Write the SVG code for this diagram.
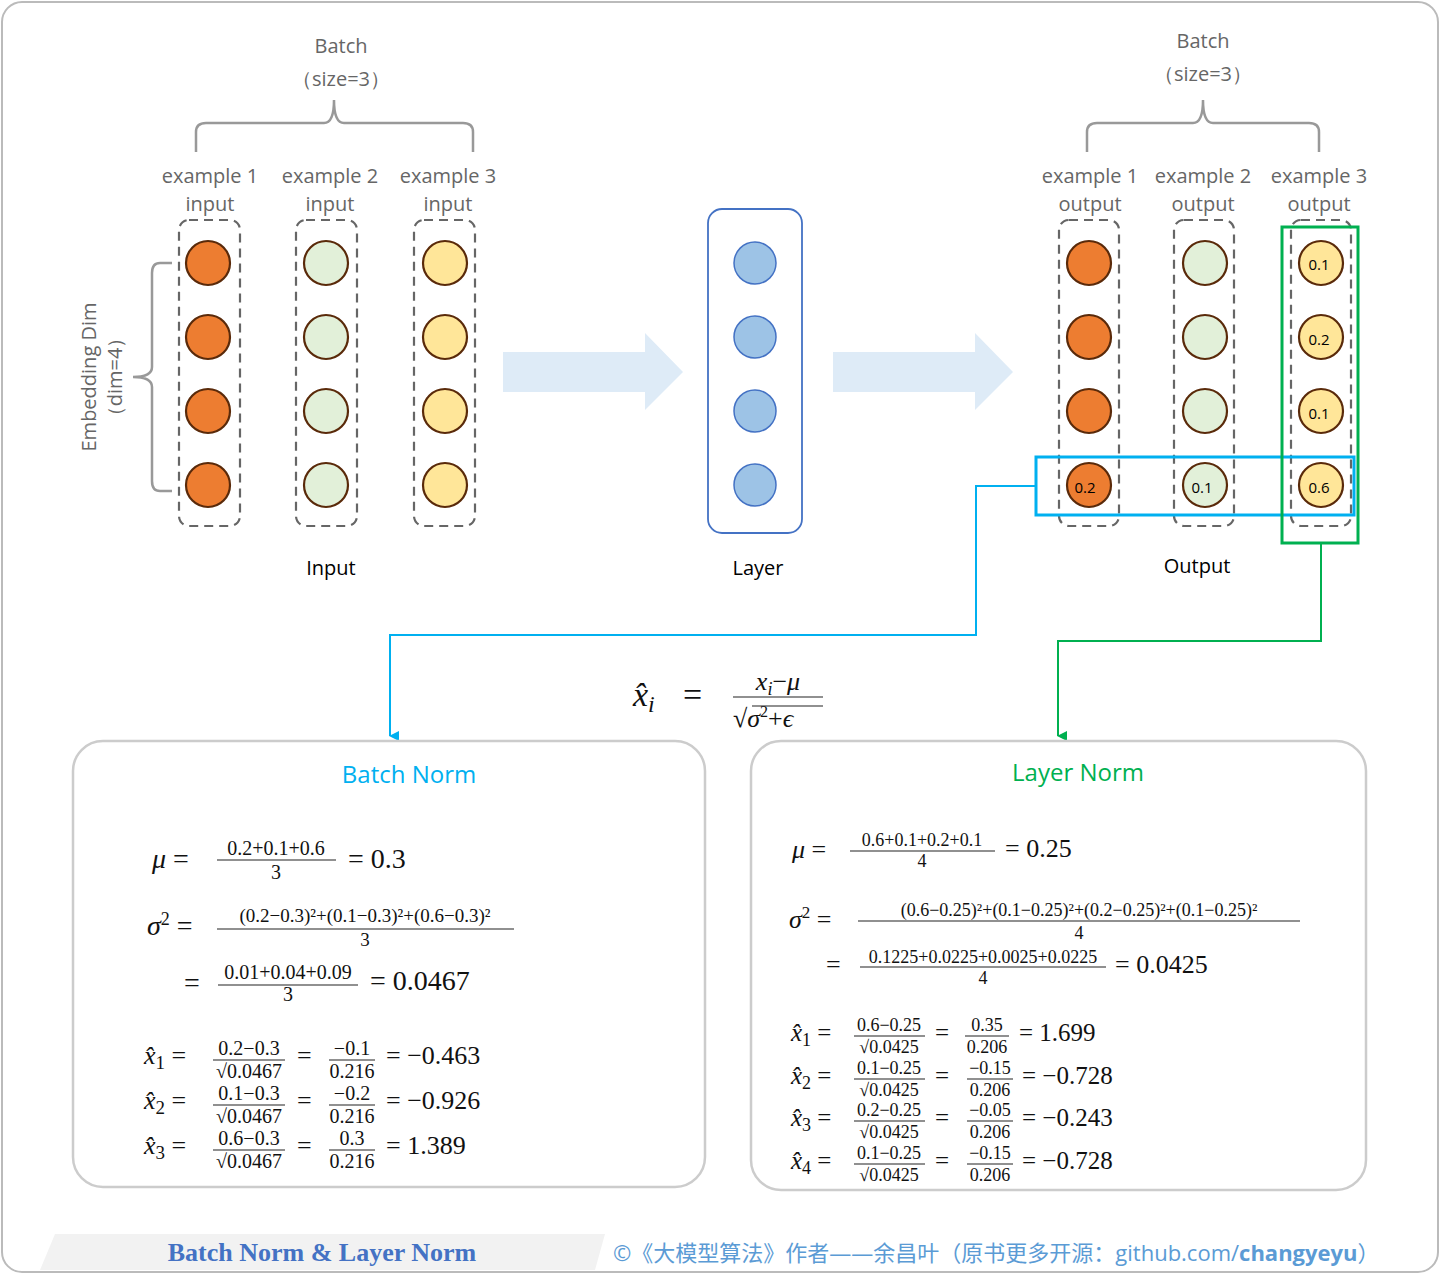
<svg xmlns="http://www.w3.org/2000/svg" width="1440" height="1274" viewBox="0 0 1440 1274">
<style>
.lb{font-family:"Open Sans","Liberation Sans",sans-serif;fill:#666;font-size:20px}
.bk{font-family:"Open Sans","Liberation Sans",sans-serif;fill:#000;font-size:20px}
.m{font-family:"Liberation Serif",serif;fill:#111}
.i{font-style:italic}
.dash{fill:none;stroke:#666;stroke-width:2.2;stroke-dasharray:9 6}
.or{fill:#ED7D31;stroke:#5a2a0a;stroke-width:2.2}
.gr{fill:#E2F0D9;stroke:#5a2a0a;stroke-width:2.2}
.ye{fill:#FFE699;stroke:#5a2a0a;stroke-width:2.2}
.bl{fill:#9DC3E6;stroke:#4472C4;stroke-width:1.5}
.ct{font-family:"Open Sans","Liberation Sans",sans-serif;font-size:15px;fill:#000;text-anchor:middle}
.brace{fill:none;stroke:#999;stroke-width:2.5}
.fl{stroke:#222;stroke-width:1.2}
.bigarrow{fill:#DEEBF7}
</style>
<defs>
<marker id="ab" markerWidth="10" markerHeight="10" refX="5" refY="9" orient="auto" markerUnits="userSpaceOnUse" viewBox="0 0 10 10"><path d="M0,0 L10,0 L5,10z" fill="#00B0F0"/></marker>
<marker id="ag" markerWidth="10" markerHeight="10" refX="5" refY="9" orient="auto" markerUnits="userSpaceOnUse" viewBox="0 0 10 10"><path d="M0,0 L10,0 L5,10z" fill="#00B050"/></marker>
</defs>
<rect x="2" y="2" width="1436" height="1270" rx="20" fill="#fff" stroke="#bbb" stroke-width="2"/>

<g id="input">
<text class="lb" x="341" y="53" text-anchor="middle" font-size="28">Batch</text>
<text class="lb" x="341" y="86" text-anchor="middle">（size=3）</text>
<path class="brace" d="M196,152 V132 Q196,123 206,123 H324 Q334,123 334,100 Q334,123 344,123 H463 Q473,123 473,132 V152"/>
<text class="lb" x="210" y="183" text-anchor="middle">example 1</text><text class="lb" x="210" y="211" text-anchor="middle">input</text>
<text class="lb" x="330" y="183" text-anchor="middle">example 2</text><text class="lb" x="330" y="211" text-anchor="middle">input</text>
<text class="lb" x="448" y="183" text-anchor="middle">example 3</text><text class="lb" x="448" y="211" text-anchor="middle">input</text>
<path class="brace" d="M172,263 H160 Q152,263 152,273 V367 Q152,377 133,377 Q152,377 152,387 V481 Q152,491 160,491 H172" stroke-width="2"/>
<text class="lb" transform="translate(96,377) rotate(-90)" text-anchor="middle">Embedding Dim</text>
<text class="lb" transform="translate(122,377) rotate(-90)" text-anchor="middle">（dim=4）</text>
<rect class="dash" x="179" y="220" width="61" height="306" rx="10"/>
<rect class="dash" x="296" y="220" width="61" height="306" rx="10"/>
<rect class="dash" x="414" y="220" width="61" height="306" rx="10"/>
<circle class="or" cx="208" cy="263" r="22"/><circle class="or" cx="208" cy="337" r="22"/><circle class="or" cx="208" cy="411" r="22"/><circle class="or" cx="208" cy="485" r="22"/>
<circle class="gr" cx="326" cy="263" r="22"/><circle class="gr" cx="326" cy="337" r="22"/><circle class="gr" cx="326" cy="411" r="22"/><circle class="gr" cx="326" cy="485" r="22"/>
<circle class="ye" cx="445" cy="263" r="22"/><circle class="ye" cx="445" cy="337" r="22"/><circle class="ye" cx="445" cy="411" r="22"/><circle class="ye" cx="445" cy="485" r="22"/>
<text class="bk" x="331" y="575" text-anchor="middle">Input</text>
</g>

<g id="layer">
<rect x="708" y="209" width="94" height="324" rx="14" fill="none" stroke="#4472C4" stroke-width="1.8"/>
<circle class="bl" cx="755" cy="263" r="21"/><circle class="bl" cx="755" cy="337" r="21"/><circle class="bl" cx="755" cy="411" r="21"/><circle class="bl" cx="755" cy="485" r="21"/>
<text class="bk" x="758" y="575" text-anchor="middle">Layer</text>
</g>

<g id="output">
<text class="lb" x="1203" y="48" text-anchor="middle" font-size="28">Batch</text>
<text class="lb" x="1203" y="81" text-anchor="middle">（size=3）</text>
<path class="brace" d="M1087,152 V132 Q1087,123 1097,123 H1193 Q1203,123 1203,100 Q1203,123 1213,123 H1309 Q1319,123 1319,132 V152"/>
<text class="lb" x="1090" y="183" text-anchor="middle">example 1</text><text class="lb" x="1090" y="211" text-anchor="middle">output</text>
<text class="lb" x="1203" y="183" text-anchor="middle">example 2</text><text class="lb" x="1203" y="211" text-anchor="middle">output</text>
<text class="lb" x="1319" y="183" text-anchor="middle">example 3</text><text class="lb" x="1319" y="211" text-anchor="middle">output</text>
<rect class="dash" x="1059" y="220" width="60" height="306" rx="10"/>
<rect class="dash" x="1174" y="220" width="60" height="306" rx="10"/>
<rect class="dash" x="1291" y="220" width="60" height="306" rx="10"/>
<circle class="or" cx="1089" cy="263" r="22"/><circle class="or" cx="1089" cy="337" r="22"/><circle class="or" cx="1089" cy="411" r="22"/><circle class="or" cx="1089" cy="485" r="22"/>
<circle class="gr" cx="1205" cy="263" r="22"/><circle class="gr" cx="1205" cy="337" r="22"/><circle class="gr" cx="1205" cy="411" r="22"/><circle class="gr" cx="1205" cy="485" r="22"/>
<circle class="ye" cx="1321" cy="263" r="22"/><circle class="ye" cx="1321" cy="337" r="22"/><circle class="ye" cx="1321" cy="411" r="22"/><circle class="ye" cx="1321" cy="485" r="22"/>
<text class="ct" x="1319" y="270">0.1</text><text class="ct" x="1319" y="345">0.2</text><text class="ct" x="1319" y="419">0.1</text><text class="ct" x="1319" y="493">0.6</text>
<text class="ct" x="1085" y="493">0.2</text><text class="ct" x="1202" y="493">0.1</text>
<rect x="1036" y="457" width="318" height="58" fill="none" stroke="#00B0F0" stroke-width="3"/>
<rect x="1282" y="227" width="76" height="316" fill="none" stroke="#00B050" stroke-width="3"/>
<text class="bk" x="1197" y="573" text-anchor="middle">Output</text>
</g>

<g id="connectors">
<path class="bigarrow" d="M503,352 H645 V333 L683,372 L645,410 V392 H503z"/>
<path class="bigarrow" d="M833,352 H975 V333 L1013,372 L975,410 V392 H833z"/>
<path d="M1036,486 H976 V635 H390 V736" fill="none" stroke="#00B0F0" stroke-width="2" marker-end="url(#ab)"/>
<path d="M1321,543 V641 H1058 V736" fill="none" stroke="#00B050" stroke-width="2" marker-end="url(#ag)"/>
</g>

<g id="formula" class="m">
<text x="633" y="706" font-size="34" class="i">x̂<tspan font-size="24" dy="6">i</tspan></text>
<text x="683" y="706" font-size="34">=</text>
<text x="778" y="690" font-size="26" text-anchor="middle"><tspan class="i">x</tspan><tspan font-size="18" dy="5" class="i">i</tspan><tspan dy="-5">−</tspan><tspan class="i">μ</tspan></text>
<line x1="733" y1="697" x2="823" y2="697" class="fl" stroke-width="1.8"/>
<text x="733" y="727" font-size="26">√<tspan class="i">σ</tspan><tspan font-size="16" dy="-10">2</tspan><tspan dy="10">+</tspan><tspan class="i">ϵ</tspan></text>
<line x1="752" y1="706" x2="823" y2="706" class="fl"/>
</g>

<g id="batchnorm">
<rect x="73" y="741" width="632" height="446" rx="30" fill="#fff" stroke="#ccc" stroke-width="2.5"/>
<text x="409" y="783" font-family="Open Sans,Liberation Sans,sans-serif" font-size="24" fill="#00B0F0" text-anchor="middle">Batch Norm</text>
<g class="m">
<text x="152" y="868" font-size="28"><tspan class="i">μ</tspan> =</text>
<text x="276" y="855" font-size="20" text-anchor="middle">0.2+0.1+0.6</text><line x1="217" y1="860" x2="336" y2="860" class="fl"/><text x="276" y="879" font-size="20" text-anchor="middle">3</text>
<text x="348" y="868" font-size="28">= 0.3</text>
<text x="147" y="935" font-size="28"><tspan class="i">σ</tspan><tspan font-size="18" dy="-10">2</tspan><tspan dy="10"> =</tspan></text>
<text x="365" y="922" font-size="19" text-anchor="middle">(0.2−0.3)²+(0.1−0.3)²+(0.6−0.3)²</text><line x1="217" y1="929" x2="514" y2="929" class="fl"/><text x="365" y="946" font-size="19" text-anchor="middle">3</text>
<text x="184" y="992" font-size="28">=</text>
<text x="288" y="979" font-size="20" text-anchor="middle">0.01+0.04+0.09</text><line x1="218" y1="985" x2="358" y2="985" class="fl"/><text x="288" y="1001" font-size="20" text-anchor="middle">3</text>
<text x="370" y="990" font-size="28">= 0.0467</text>
<g font-size="20">
<text x="144" y="1064" font-size="26"><tspan class="i">x̂</tspan><tspan font-size="19" dy="5">1</tspan><tspan dy="-5"> =</tspan></text>
<text x="249" y="1055" text-anchor="middle">0.2−0.3</text><line x1="213" y1="1060" x2="285" y2="1060" class="fl"/><text x="249" y="1078" text-anchor="middle">√0.0467</text>
<text x="297" y="1064" font-size="26">=</text>
<text x="352" y="1055" text-anchor="middle">−0.1</text><line x1="329" y1="1060" x2="375" y2="1060" class="fl"/><text x="352" y="1078" text-anchor="middle">0.216</text>
<text x="386" y="1064" font-size="26">= −0.463</text>
<text x="144" y="1109" font-size="26"><tspan class="i">x̂</tspan><tspan font-size="19" dy="5">2</tspan><tspan dy="-5"> =</tspan></text>
<text x="249" y="1100" text-anchor="middle">0.1−0.3</text><line x1="213" y1="1105" x2="285" y2="1105" class="fl"/><text x="249" y="1123" text-anchor="middle">√0.0467</text>
<text x="297" y="1109" font-size="26">=</text>
<text x="352" y="1100" text-anchor="middle">−0.2</text><line x1="329" y1="1105" x2="375" y2="1105" class="fl"/><text x="352" y="1123" text-anchor="middle">0.216</text>
<text x="386" y="1109" font-size="26">= −0.926</text>
<text x="144" y="1154" font-size="26"><tspan class="i">x̂</tspan><tspan font-size="19" dy="5">3</tspan><tspan dy="-5"> =</tspan></text>
<text x="249" y="1145" text-anchor="middle">0.6−0.3</text><line x1="213" y1="1150" x2="285" y2="1150" class="fl"/><text x="249" y="1168" text-anchor="middle">√0.0467</text>
<text x="297" y="1154" font-size="26">=</text>
<text x="352" y="1145" text-anchor="middle">0.3</text><line x1="329" y1="1150" x2="375" y2="1150" class="fl"/><text x="352" y="1168" text-anchor="middle">0.216</text>
<text x="386" y="1154" font-size="26">= 1.389</text>
</g>
</g>
</g>

<g id="layernorm">
<rect x="751" y="741" width="615" height="449" rx="30" fill="#fff" stroke="#ccc" stroke-width="2.5"/>
<text x="1078" y="781" font-family="Open Sans,Liberation Sans,sans-serif" font-size="24" fill="#00B050" text-anchor="middle">Layer Norm</text>
<g class="m">
<text x="792" y="858" font-size="26"><tspan class="i">μ</tspan> =</text>
<text x="922" y="846" font-size="18" text-anchor="middle">0.6+0.1+0.2+0.1</text><line x1="850" y1="851" x2="995" y2="851" class="fl"/><text x="922" y="867" font-size="18" text-anchor="middle">4</text>
<text x="1005" y="857" font-size="26">= 0.25</text>
<text x="789" y="928" font-size="26"><tspan class="i">σ</tspan><tspan font-size="17" dy="-10">2</tspan><tspan dy="10"> =</tspan></text>
<text x="1079" y="916" font-size="18" text-anchor="middle">(0.6−0.25)²+(0.1−0.25)²+(0.2−0.25)²+(0.1−0.25)²</text><line x1="858" y1="921" x2="1300" y2="921" class="fl"/><text x="1079" y="939" font-size="18" text-anchor="middle">4</text>
<text x="826" y="973" font-size="26">=</text>
<text x="983" y="963" font-size="18" text-anchor="middle">0.1225+0.0225+0.0025+0.0225</text><line x1="860" y1="967" x2="1106" y2="967" class="fl"/><text x="983" y="984" font-size="18" text-anchor="middle">4</text>
<text x="1115" y="973" font-size="26">= 0.0425</text>
<g font-size="18">
<text x="791" y="1041" font-size="25"><tspan class="i">x̂</tspan><tspan font-size="18" dy="5">1</tspan><tspan dy="-5"> =</tspan></text>
<text x="889" y="1031" text-anchor="middle">0.6−0.25</text><line x1="854" y1="1036" x2="925" y2="1036" class="fl"/><text x="889" y="1053" text-anchor="middle">√0.0425</text>
<text x="935" y="1041" font-size="25">=</text>
<text x="987" y="1031" text-anchor="middle">0.35</text><line x1="965" y1="1036" x2="1009" y2="1036" class="fl"/><text x="987" y="1053" text-anchor="middle">0.206</text>
<text x="1019" y="1041" font-size="25">= 1.699</text>
<text x="791" y="1084" font-size="25"><tspan class="i">x̂</tspan><tspan font-size="18" dy="5">2</tspan><tspan dy="-5"> =</tspan></text>
<text x="889" y="1074" text-anchor="middle">0.1−0.25</text><line x1="854" y1="1079" x2="925" y2="1079" class="fl"/><text x="889" y="1096" text-anchor="middle">√0.0425</text>
<text x="935" y="1084" font-size="25">=</text>
<text x="990" y="1074" text-anchor="middle">−0.15</text><line x1="967" y1="1079" x2="1013" y2="1079" class="fl"/><text x="990" y="1096" text-anchor="middle">0.206</text>
<text x="1022" y="1084" font-size="25">= −0.728</text>
<text x="791" y="1126" font-size="25"><tspan class="i">x̂</tspan><tspan font-size="18" dy="5">3</tspan><tspan dy="-5"> =</tspan></text>
<text x="889" y="1116" text-anchor="middle">0.2−0.25</text><line x1="854" y1="1121" x2="925" y2="1121" class="fl"/><text x="889" y="1138" text-anchor="middle">√0.0425</text>
<text x="935" y="1126" font-size="25">=</text>
<text x="990" y="1116" text-anchor="middle">−0.05</text><line x1="967" y1="1121" x2="1013" y2="1121" class="fl"/><text x="990" y="1138" text-anchor="middle">0.206</text>
<text x="1022" y="1126" font-size="25">= −0.243</text>
<text x="791" y="1169" font-size="25"><tspan class="i">x̂</tspan><tspan font-size="18" dy="5">4</tspan><tspan dy="-5"> =</tspan></text>
<text x="889" y="1159" text-anchor="middle">0.1−0.25</text><line x1="854" y1="1164" x2="925" y2="1164" class="fl"/><text x="889" y="1181" text-anchor="middle">√0.0425</text>
<text x="935" y="1169" font-size="25">=</text>
<text x="990" y="1159" text-anchor="middle">−0.15</text><line x1="967" y1="1164" x2="1013" y2="1164" class="fl"/><text x="990" y="1181" text-anchor="middle">0.206</text>
<text x="1022" y="1169" font-size="25">= −0.728</text>
</g>
</g>
</g>

<g id="footer">
<path d="M55,1234 H605 L595,1270 H40z" fill="#F2F2F2"/>
<text x="322" y="1261" font-family="Liberation Serif,serif" font-weight="bold" font-size="26" fill="#4472C4" text-anchor="middle">Batch Norm  &amp;  Layer Norm</text>
<text x="613" y="1261" font-family="Open Sans,Liberation Sans,Noto Sans CJK SC,sans-serif" font-size="22" fill="#5B9BD5">©《大模型算法》作者——余昌叶（原书更多开源：github.com/<tspan font-weight="bold">changyeyu</tspan>）</text>
</g>
</svg>
